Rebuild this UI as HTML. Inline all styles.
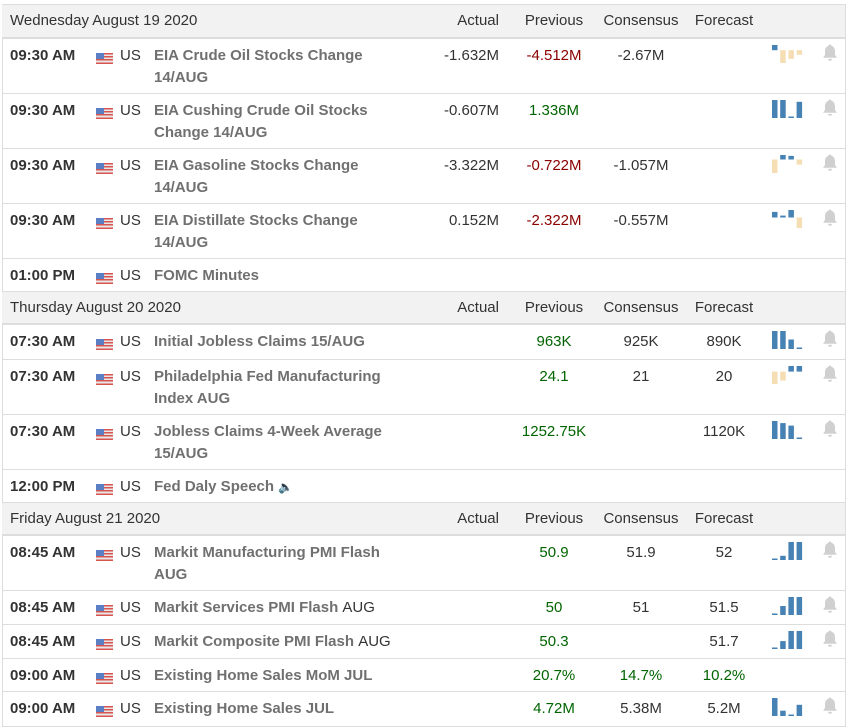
<!DOCTYPE html>
<html><head><meta charset="utf-8">
<style>
body{margin:0;background:#fff;font-family:"Liberation Sans",Arial,sans-serif;font-size:15px;color:#333;}
#cal{position:absolute;left:2px;top:4px;width:842px;height:722px;border-left:1px solid #ddd;border-right:1px solid #ddd;border-top:1px solid #ddd;}
.r{position:absolute;left:2px;width:843px;border-bottom:1px solid #ddd;box-sizing:border-box;}
.h{background:#f2f2f2;border-bottom:2px solid #ddd;}
.t{position:absolute;white-space:nowrap;line-height:20px;}
.tm{left:8px;font-weight:bold;color:#333;}
.us{left:118px;}
.ev{left:152px;font-weight:bold;color:#707070;width:260px;white-space:normal;line-height:22px;}
.ac{right:346px;text-align:right;}
.pv{left:552px;transform:translateX(-50%);}
.cs{left:639px;transform:translateX(-50%);}
.fc{left:722px;transform:translateX(-50%);}
.red{color:#8b0000}.grn{color:#006400}
.flag{position:absolute;left:94px;width:17px;height:11px;}
</style></head><body>
<div id="cal"></div>
<script>
var rows=[
{type:'h',top:5,h:34,day:'Wednesday August 19 2020'},
{top:39,h:55,time:'09:30 AM',ev:'EIA Crude Oil Stocks Change 14/AUG',ac:'-1.632M',pv:'-4.512M',pc:'red',cs:'-2.67M',fc:''},
{top:94,h:55,time:'09:30 AM',ev:'EIA Cushing Crude Oil Stocks Change 14/AUG',ac:'-0.607M',pv:'1.336M',pc:'grn',cs:'',fc:''},
{top:149,h:55,time:'09:30 AM',ev:'EIA Gasoline Stocks Change 14/AUG',ac:'-3.322M',pv:'-0.722M',pc:'red',cs:'-1.057M',fc:''},
{top:204,h:55,time:'09:30 AM',ev:'EIA Distillate Stocks Change 14/AUG',ac:'0.152M',pv:'-2.322M',pc:'red',cs:'-0.557M',fc:''},
{top:259,h:33,time:'01:00 PM',ev:'FOMC Minutes',ac:'',pv:'',cs:'',fc:''},
{type:'h',top:292,h:33,day:'Thursday August 20 2020'},
{top:325,h:35,time:'07:30 AM',ev:'Initial Jobless Claims 15/AUG',ac:'',pv:'963K',pc:'grn',cs:'925K',fc:'890K'},
{top:360,h:55,time:'07:30 AM',ev:'Philadelphia Fed Manufacturing Index AUG',ac:'',pv:'24.1',pc:'grn',cs:'21',fc:'20'},
{top:415,h:55,time:'07:30 AM',ev:'Jobless Claims 4-Week Average 15/AUG',ac:'',pv:'1252.75K',pc:'grn',cs:'',fc:'1120K'},
{top:470,h:33,time:'12:00 PM',ev:'Fed Daly Speech',spk:1,ac:'',pv:'',cs:'',fc:''},
{type:'h',top:503,h:33,day:'Friday August 21 2020'},
{top:536,h:55,time:'08:45 AM',ev:'Markit Manufacturing PMI Flash AUG',ac:'',pv:'50.9',pc:'grn',cs:'51.9',fc:'52'},
{top:591,h:34,time:'08:45 AM',ev:'Markit Services PMI Flash <span style="font-weight:normal;color:#333">AUG</span>',ac:'',pv:'50',pc:'grn',cs:'51',fc:'51.5'},
{top:625,h:34,time:'08:45 AM',ev:'Markit Composite PMI Flash <span style="font-weight:normal;color:#333">AUG</span>',ac:'',pv:'50.3',pc:'grn',cs:'',fc:'51.7'},
{top:659,h:33,time:'09:00 AM',ev:'Existing Home Sales MoM JUL',ac:'',pv:'20.7%',pc:'grn',cs:'14.7%',fc:'10.2%',cc:'grn',fcc:'grn',nobell:1},
{top:692,h:35,time:'09:00 AM',ev:'Existing Home Sales JUL',ac:'',pv:'4.72M',pc:'grn',cs:'5.38M',fc:'5.2M'}
];
// sparkline data (one array per event row index)
var spark1=[1.5,-3.7,-2.5,-1.3];
var spark2=[20,20,1,18];
var spark3=[-4.5,1.5,1.2,-1.7];
var spark4=[1.5,0.5,2,-2.8];
var spark7=[17,17,9,1];
var spark8=[-11,-8,5,5];
var spark9=[17,15,12.7,1];
var spark12=[1,4,17,17];
var spark13=[1,7,14,14];
var spark14=[1,7,16,16];
var spark16=[17,5,1,10.6];
var sparks={1:spark1,2:spark2,3:spark3,4:spark4,7:spark7,8:spark8,9:spark9,12:spark12,13:spark13,14:spark14,16:spark16};

function add(parent,cls,html,name,top){var d=document.createElement('div');d.className='t '+cls;d.innerHTML=html;d.style.top=top+'px';


parent.appendChild(d);return d;}
var flagSvg='<svg width="17" height="11" viewBox="0 0 17 11"><rect width="17" height="11" fill="#e8e8e8"/><rect y="0" width="17" height="1.5" fill="#d9534f"/><rect y="3" width="17" height="1.5" fill="#d9534f"/><rect y="6" width="17" height="1.5" fill="#d9534f"/><rect y="9.5" width="17" height="1.5" fill="#d9534f"/><rect width="8" height="6" fill="#5b7fc4"/></svg>';
var bellSvg='<svg width="16" height="18" viewBox="0 0 16 18"><path d="M8 0.5c-0.9 0-1.4 0.6-1.4 1.3C3.9 2.6 3 4.9 3 7.5v3.5L1 13.8h14l-2-2.8V7.5c0-2.6-0.9-4.9-3.6-5.7C9.4 1.1 8.9 0.5 8 0.5z" fill="#d0d0d0"/><rect x="6.3" y="14.8" width="3.4" height="1.8" fill="#d0d0d0"/></svg>';
rows.forEach(function(r,i){
 var d=document.createElement('div');d.className='r'+(r.type==='h'?' h':'');
 d.style.top=r.top+'px';d.style.height=r.h+'px';
 
 
 document.body.appendChild(d);
 var T=7;
 if(r.type==='h'){
  add(d,'','<span>'+r.day+'</span>','day-label',6).style.left='8px';
  add(d,'ac','Actual','actual-header',6);
  add(d,'pv','Previous','previous-header',6);
  add(d,'cs','Consensus','consensus-header',6);
  add(d,'fc','Forecast','forecast-header',6);
  return;
 }
 add(d,'tm',r.time,'event-time',T);
 var f=document.createElement('div');f.className='flag';f.style.top='12px';f.innerHTML=flagSvg;
 
 
 d.appendChild(f);
 add(d,'us','US','country-code',T);
 var ev=add(d,'ev',r.ev+(r.spk?' <span style="font-size:12px;color:#666">&#128264;</span>':''),'event-name',T-1);
 
 if(r.ac)add(d,'ac',r.ac,'actual-value',T);
 if(r.pv)add(d,'pv '+(r.pc||''),r.pv,'previous-value',T);
 if(r.cs)add(d,'cs '+(r.cc||''),r.cs,'consensus-value',T);
 if(r.fc)add(d,'fc '+(r.fcc||''),r.fc,'forecast-value',T);
 if(!r.nobell&&r.top!==259&&r.top!==470){
  var b=document.createElement('div');b.style.cssText='position:absolute;left:820px;top:5px;';b.innerHTML=bellSvg;
  
  
  d.appendChild(b);
 }
 var s=sparks[i];
 if(s){
  var mx=Math.max(0,Math.max.apply(null,s)),mn=Math.min(0,Math.min.apply(null,s));
  var H=18,sc=H/(mx-mn||1),base=6+mx*sc;
  var svg='<svg width="36" height="28" style="position:absolute;left:770px;top:0">';
  s.forEach(function(v,k){
   var hgt=Math.max(1.5,Math.abs(v)*sc);var y=v>=0?base-hgt:base;
   svg+='<rect x="'+(k*8.2)+'" y="'+y.toFixed(1)+'" width="5.5" height="'+hgt.toFixed(1)+'" fill="'+(v>=0?'#4682b4':'#f5deb3')+'"/>';
  });
  svg+='</svg>';
  var sp=document.createElement('div');sp.style.cssText='position:absolute;left:0;top:0';sp.innerHTML=svg;
  
  
  d.appendChild(sp);
 }
});
</script>
</body></html>
